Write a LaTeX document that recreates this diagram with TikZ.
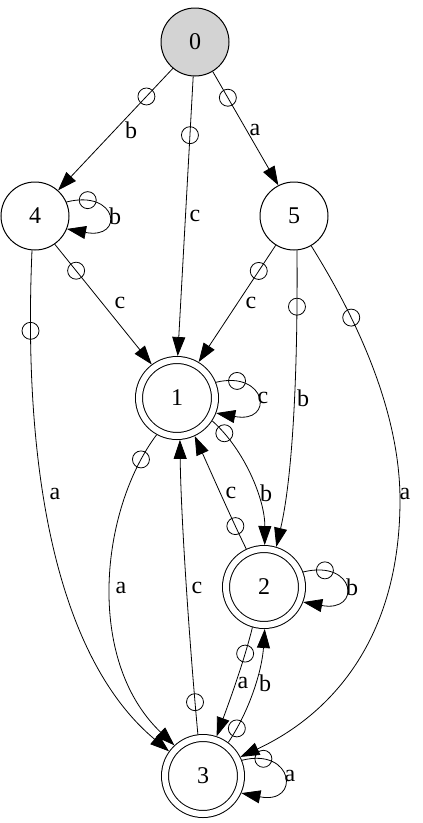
\documentclass[tikz,border=0pt]{standalone}
\usepackage{fontspec}
\setmainfont{Liberation Serif}
\usetikzlibrary{arrows.meta}

\definecolor{gvgray}{RGB}{211,211,211}
\newcommand\lbl{\fontsize{24}{26}\selectfont}

\tikzset{
    state/.style={circle, draw, line width=1pt, minimum size=68pt, inner sep=0pt, font=\lbl},
    accept/.style={state, double, double distance=6pt, minimum size=76pt, outer sep=4pt},
    initial/.style={state, fill=gvgray},
    tailmark/.style={circle, draw, line width=0.8pt, minimum size=17pt, inner sep=0pt},
    edgelbl/.style={font=\lbl, inner sep=0pt},
    trans/.style={line width=0.8pt, -{Triangle[length=19pt,width=13pt]}},
}

\begin{document}
\begin{tikzpicture}[x=1pt, y=-1pt]
    \useasboundingbox (0,0) rectangle (423,823);

    % states
    \node[initial] (s0) at (195,42) {0};
    \node[state]   (s4) at (35,216) {4};
    \node[state]   (s5) at (294,216) {5};
    \node[accept]  (s1) at (177,398) {1};
    \node[accept]  (s2) at (264,587) {2};
    \node[accept]  (s3) at (203,776) {3};

    % transitions out of 0
    \draw[trans] (s0.230) -- node[pos=0.23, tailmark] (t04) {} (s4.48);
    \draw[trans] (s0.267) -- node[pos=0.21, tailmark] (t01) {} (s1.89);
    \draw[trans] (s0.301) -- node[pos=0.23, tailmark] (t05) {} (s5.117);

    % transitions out of 4
    \draw[trans] (s4.24) .. controls (118,189) and (125,240) .. node[pos=0.16, tailmark] (t44) {} (s4.-22);
    \draw[trans] (s4.305) -- node[pos=0.22, tailmark] (t41) {} (s1.127);
    \draw[trans] (s4.265) .. controls (22,480) and (60,660) .. node[pos=0.12, tailmark] (t43) {} (s3.144);

    % transitions out of 5
    \draw[trans] (s5.238) -- node[pos=0.22, tailmark] (t51) {} (s1.59);
    \draw[trans] (s5.275) .. controls (298,380) and (292,480) .. node[pos=0.15, tailmark] (t52) {} (s2.73);
    \draw[trans] (s5.300) .. controls (345,300) and (400,400) .. node[pos=0.35, tailmark] (t53) {} (400,500)
        .. controls (400,640) and (330,715) .. (s3.27);

    % transitions out of 1
    \draw[trans] (s1.22) .. controls (267,370) and (275,424) .. node[pos=0.16, tailmark] (t11) {} (s1.-21);
    \draw[trans] (s1.327) .. controls (245,450) and (265,500) .. node[pos=0.13, tailmark] (t12) {} (s2.89);
    \draw[trans] (s1.241) .. controls (100,510) and (85,660) .. node[pos=0.1, tailmark] (t13) {} (s3.133);

    % transitions out of 2
    \draw[trans] (s2.115) .. controls (232,520) and (210,470) .. node[pos=0.23, tailmark] (t21) {} (s1.295);
    \draw[trans] (s2.21) .. controls (356,559) and (362,613) .. node[pos=0.16, tailmark] (t22) {} (s2.-21);
    \draw[trans] (s2.254) .. controls (243,665) and (228,705) .. node[pos=0.23, tailmark] (t23) {} (s3.71);

    % transitions out of 3
    \draw[trans] (s3.97) .. controls (190,650) and (181,520) .. node[pos=0.12, tailmark] (t31) {} (s1.274);
    \draw[trans] (s3.53) .. controls (250,710) and (262,670) .. node[pos=0.14, tailmark] (t32) {} (s2.271);
    \draw[trans] (s3.22) .. controls (294,747) and (301,805) .. node[pos=0.16, tailmark] (t33) {} (s3.-24);

    % labels
    \node[edgelbl] (l04) at (131,130) {b};
    \node[edgelbl] (l01) at (195,216) {c};
    \node[edgelbl] (l05) at (255,130) {a};
    \node[edgelbl] (l44) at (115,216) {b};
    \node[edgelbl] (l41) at (120,303) {c};
    \node[edgelbl] (l43) at (55,494) {a};
    \node[edgelbl] (l51) at (251,303) {c};
    \node[edgelbl] (l52) at (303,398) {b};
    \node[edgelbl] (l53) at (405,494) {a};
    \node[edgelbl] (l11) at (263,398) {c};
    \node[edgelbl] (l12) at (266,493) {b};
    \node[edgelbl] (l21) at (231,493) {c};
    \node[edgelbl] (l13) at (121,588) {a};
    \node[edgelbl] (l31) at (197,588) {c};
    \node[edgelbl] (l22) at (352,587) {b};
    \node[edgelbl] (l23) at (243,683) {a};
    \node[edgelbl] (l32) at (265,683) {b};
    \node[edgelbl] (l33) at (290,776) {a};

\end{tikzpicture}
\end{document}
